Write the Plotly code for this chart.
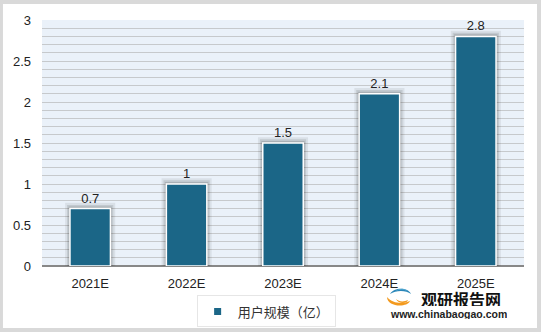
import plotly.graph_objects as go

categories = ["2021E", "2022E", "2023E", "2024E", "2025E"]
values = [0.7, 1.0, 1.5, 2.1, 2.8]
labels = ["0.7", "1", "1.5", "2.1", "2.8"]
series_name = "用户规模（亿）"
y_ticks = [0, 0.5, 1, 1.5, 2, 2.5, 3]
y_tick_text = ["0", "0.5", "1", "1.5", "2", "2.5", "3"]

BAR = "#1b6687"
FONT = "Liberation Sans, Arial, Noto Sans CJK SC, sans-serif"

fig = go.Figure()

# soft shadow layers behind bars
for w, extra, alpha in [(0.52, 0.07, 0.07), (0.48, 0.045, 0.10), (0.45, 0.025, 0.12)]:
    fig.add_trace(go.Bar(
        x=categories, y=[v + extra for v in values], width=w,
        marker=dict(color=f"rgba(0,0,0,{alpha})", line=dict(width=0)),
        showlegend=False, hoverinfo="skip",
    ))

fig.add_trace(go.Bar(
    x=categories, y=values, width=0.42, name=series_name, showlegend=False,
    marker=dict(color=BAR, line=dict(color="white", width=1.5)),
    text=labels, textposition="outside", cliponaxis=False,
    textfont=dict(size=13, color="#222", family=FONT),
))
# legend entry (small square marker like the original)
fig.add_trace(go.Scatter(
    x=[None], y=[None], mode="markers", name=series_name,
    marker=dict(symbol="square", size=7, color=BAR),
))

# white panel with grey frame
fig.add_shape(type="rect", xref="paper", yref="paper", layer="below",
              x0=-0.081, x1=1.027, y0=-0.252, y1=1.065,
              fillcolor="white", line=dict(width=0))
fig.add_shape(type="rect", xref="paper", yref="paper", layer="below",
              x0=0, x1=1, y0=0, y1=1,
              fillcolor="#eaf1f9", line=dict(width=0))

# watermark logo (drawn icon)
LX, LY = 0.7407, -0.126
for path, col in [
    ("M -12,0 C -12,-10 8,-11 11,-4 C 4,-7 -6,-7 -12,0 Z", "#f39a1e"),
    ("M -3,-2 C -1,-7 8,-7 9,-3 C 5,-5 0,-5 -3,-2 Z", "#f39a1e"),
    ("M -9,3 C -5,10 9,10 12,3 C 7,7 -3,7 -9,3 Z", "#2a86b8"),
    ("M -4,5 C -1,9 6,9 8,6 C 4,8 0,8 -4,5 Z", "#5fb3d9"),
]:
    fig.add_shape(type="path", xref="paper", yref="paper",
                  xsizemode="pixel", ysizemode="pixel", xanchor=LX, yanchor=LY,
                  path=path, fillcolor=col, line=dict(width=0))

fig.add_annotation(xref="paper", yref="paper", x=0.785, y=-0.0976, yanchor="top",
                   height=15, valign="middle",
                   text="<b>观研报告网</b>", showarrow=False, xanchor="left", borderpad=0,
                   font=dict(size=16, color="#111", family="Noto Sans CJK SC"))
fig.add_annotation(xref="paper", yref="paper", x=0.720, y=-0.171, yanchor="top",
                   height=10, valign="middle",
                   text="<b>www.chinabaogao.com</b>", showarrow=False, xanchor="left", borderpad=0,
                   font=dict(size=10.5, color="#222", family="Liberation Sans"))

fig.update_layout(
    width=541, height=332,
    margin=dict(l=42, r=17, t=20, b=66, autoexpand=False),
    paper_bgcolor="#d9d9d9",
    plot_bgcolor="rgba(0,0,0,0)",
    barmode="overlay",
    font=dict(family=FONT, size=13, color="#222"),
    showlegend=True,
    legend=dict(orientation="h", x=0.465, xanchor="center",
                yref="container", y=0.11, yanchor="top",
                bgcolor="white", bordercolor="#e6e6e6", borderwidth=1,
                font=dict(size=13, color="#333", family="Noto Sans CJK SC, sans-serif")),
    xaxis=dict(showgrid=False, ticks="", showline=False, zeroline=False,
               ticklabelstandoff=8, tickfont=dict(size=13, color="#222")),
    yaxis=dict(range=[0, 3], tickvals=y_ticks, ticktext=y_tick_text,
               showgrid=True, gridcolor="#c6c9cc", gridwidth=1,
               minor=dict(dtick=0.1, showgrid=True, gridcolor="#c6c9cc", gridwidth=1),
               zeroline=True, zerolinecolor="#888", zerolinewidth=1.5,
               showline=False, ticks="", ticklabelstandoff=10,
               tickfont=dict(size=13, color="#222")),
)

fig.write_html("out.html")
